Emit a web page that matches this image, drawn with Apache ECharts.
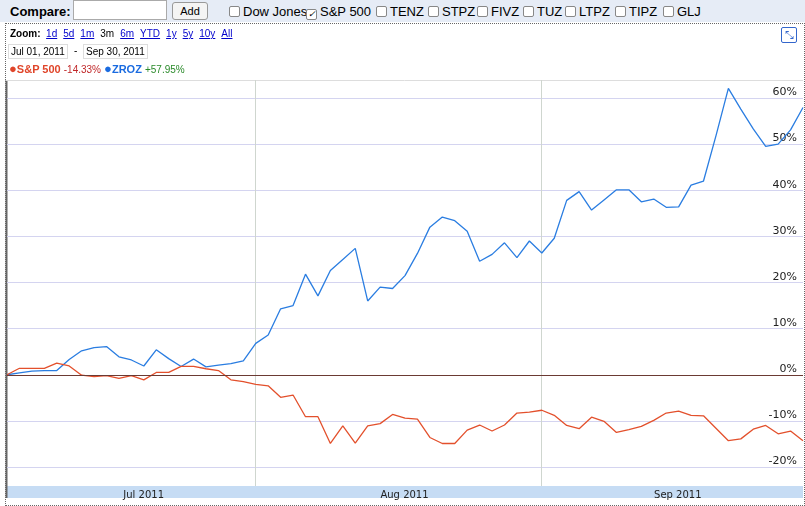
<!DOCTYPE html>
<html><head><meta charset="utf-8">
<script src="https://cdn.jsdelivr.net/npm/echarts@6/dist/echarts.min.js"></script>
<style>
body{margin:0;width:805px;height:506px;overflow:hidden;font-family:"Liberation Sans",Arial,sans-serif;background:#fff;position:relative}
#hdr{position:absolute;left:0;top:0;width:805px;height:22px;background:#e6ecf6;font-size:13px}
#hdr span,#hdr div{position:absolute;top:4px}
.cb{display:inline-block;width:9px;height:9px;border:1px solid #888;border-radius:2px;background:#fff;vertical-align:-1px;margin-right:3px;font-size:9px;line-height:9px;text-align:center}
#box{position:absolute;left:5px;top:23px;width:798px;height:481px;border:1px dotted #666}
#c{position:absolute;left:0;top:0;width:805px;height:506px}
.lk{color:#00c;text-decoration:underline;margin-right:6px}
.ov{position:absolute;font-size:10px}
</style></head><body>
<div id="hdr">
<span style="left:10px;font-weight:bold">Compare:</span>
<div style="left:73px;top:0;width:92px;height:18px;background:#fff;border:1px solid #aaa"></div>
<div style="left:172px;top:2px;width:34px;height:16px;background:#f4f4f4;border:1px solid #999;border-radius:3px;font-size:11px;text-align:center;line-height:16px">Add</div>
<span style="left:229px"><i class="cb"></i>Dow Jones</span>
<span style="left:306px"><i class="cb">✓</i>S&amp;P 500</span>
<span style="left:376px"><i class="cb"></i>TENZ</span>
<span style="left:428px"><i class="cb"></i>STPZ</span>
<span style="left:477px"><i class="cb"></i>FIVZ</span>
<span style="left:523px"><i class="cb"></i>TUZ</span>
<span style="left:565px"><i class="cb"></i>LTPZ</span>
<span style="left:615px"><i class="cb"></i>TIPZ</span>
<span style="left:663px"><i class="cb"></i>GLJ</span>
</div>
<div id="box"></div>
<div id="c"></div>
<div class="ov" style="left:10px;top:28px"><b>Zoom:</b>&nbsp; <span class="lk">1d</span><span class="lk">5d</span><span class="lk">1m</span><span style="margin-right:6px">3m</span><span class="lk">6m</span><span class="lk">YTD</span><span class="lk">1y</span><span class="lk">5y</span><span class="lk">10y</span><span class="lk">All</span></div>
<div class="ov" style="left:8px;top:44px;border:1px solid #ddd;padding:1px 2px">Jul 01, 2011</div>
<div class="ov" style="left:74px;top:45px">-</div>
<div class="ov" style="left:83px;top:44px;border:1px solid #ddd;padding:1px 2px">Sep 30, 2011</div>
<div class="ov" style="left:9px;top:61px;font-size:11px"><span style="color:#e0452a;font-size:13px">●</span><b style="color:#e0452a">S&amp;P 500</b> <span style="color:#c0282a;font-size:10px">-14.33%</span> <span style="color:#1a6be0;font-size:13px">●</span><b style="color:#1a6be0">ZROZ</b> <span style="color:#2a8a2a;font-size:10px">+57.95%</span></div>
<div style="position:absolute;left:781px;top:27px;width:14px;height:14px;border:1px solid #36c;border-radius:2px;color:#36c;font-size:11px;line-height:14px;text-align:center">⤡</div>
<script>
var dates=['Jul 01','Jul 05','Jul 06','Jul 07','Jul 08','Jul 11','Jul 12','Jul 13','Jul 14','Jul 15','Jul 18','Jul 19','Jul 20','Jul 21','Jul 22','Jul 25','Jul 26','Jul 27','Jul 28','Jul 29',
'Aug 01','Aug 02','Aug 03','Aug 04','Aug 05','Aug 08','Aug 09','Aug 10','Aug 11','Aug 12','Aug 15','Aug 16','Aug 17','Aug 18','Aug 19','Aug 22','Aug 23','Aug 24','Aug 25','Aug 26','Aug 29','Aug 30','Aug 31',
'Sep 01','Sep 02','Sep 05','Sep 06','Sep 07','Sep 08','Sep 09','Sep 12','Sep 13','Sep 14','Sep 15','Sep 16','Sep 19','Sep 20','Sep 21','Sep 22','Sep 23','Sep 26','Sep 27','Sep 28','Sep 29','Sep 30'];
var zroz=[0,0.4,0.8,0.9,0.9,3.3,5.2,5.9,6.1,3.9,3.2,1.9,5.4,3.5,1.8,3.4,1.7,2.1,2.4,3.0,6.8,8.6,14.3,15.0,21.8,17.1,22.6,25.0,27.4,16.0,19.0,18.7,21.5,
26.3,32.0,34.2,33.4,31.1,24.6,26.1,28.6,25.4,29.0,26.4,29.6,37.8,39.7,35.7,37.9,40.1,40.1,37.5,38.1,36.3,36.4,41.1,42.0,51.8,62.1,57.6,53.3,49.5,50.0,53.1,57.95];
var spx=[0,1.4,1.4,1.4,2.5,1.9,-0.1,-0.4,-0.2,-0.8,-0.2,-1.1,0.5,0.5,1.8,1.8,1.3,0.9,-1.1,-1.5,-2.1,-2.4,-4.9,-4.4,-9.1,-9.1,-14.9,-11.1,-14.8,-11.1,-10.6,-8.6,-9.4,
-9.6,-13.6,-14.9,-14.9,-12.0,-10.9,-12.2,-10.9,-8.3,-8.1,-7.7,-8.8,-11.0,-11.7,-9.2,-10.1,-12.5,-11.9,-11.2,-9.9,-8.3,-7.9,-8.8,-8.9,-11.6,-14.3,-13.9,-11.8,-11.0,-12.8,-12.2,-14.33];
var monthLabels={11:'Jul 2011',32:'Aug 2011',54:'Sep 2011'};
var monthStarts=[20,43];
var ch=echarts.init(document.getElementById('c'));
ch.setOption({
 animation:false,
 graphic:[
  {type:'rect',shape:{x:6,y:486,width:797,height:12},style:{fill:'#c6dcf4'},z:-1},
  {type:'line',shape:{x1:6.5,y1:80,x2:6.5,y2:498},style:{stroke:'#666',lineWidth:2}},
  {type:'line',shape:{x1:6,y1:80.5,x2:803,y2:80.5},style:{stroke:'#ddd',lineWidth:1}}
 ],
 grid:[{left:7,right:2,top:98,bottom:39},{left:7,right:2,top:80,bottom:20}],
 xAxis:[
  {type:'category',data:dates,boundaryGap:false,gridIndex:0,show:false},
  {type:'category',data:dates,boundaryGap:false,gridIndex:1,
   axisLine:{show:false},axisTick:{show:false},
   splitLine:{show:true,interval:function(i){return monthStarts.indexOf(i)>=0;},lineStyle:{color:'#cfd6cf'}},
   axisLabel:{interval:0,formatter:function(v,i){return monthLabels[i]||'';},fontSize:10,color:'#222',margin:4,fontFamily:'DejaVu Sans'}}
 ],
 yAxis:[
  {type:'value',gridIndex:0,min:-20,max:60,interval:10,position:'right',
   axisLine:{show:false},axisTick:{show:false},
   splitLine:{lineStyle:{color:'#d4d4f0'}},
   axisLabel:{inside:true,margin:6,formatter:'{value}%',fontSize:11,color:'#222',verticalAlign:'bottom',fontFamily:'DejaVu Sans'}},
  {type:'value',gridIndex:1,show:false}
 ],
 series:[
  {type:'line',data:zroz,xAxisIndex:0,yAxisIndex:0,symbol:'none',clip:false,lineStyle:{color:'#2a7de1',width:1.3},
   markLine:{silent:true,symbol:'none',label:{show:false},data:[{yAxis:0}],lineStyle:{color:'#6b3a33',type:'solid',width:1}}},
  {type:'line',data:spx,xAxisIndex:0,yAxisIndex:0,symbol:'none',clip:false,lineStyle:{color:'#e3502c',width:1.3}},
  {type:'line',data:[],xAxisIndex:1,yAxisIndex:1}
 ]
});
</script></body></html>
